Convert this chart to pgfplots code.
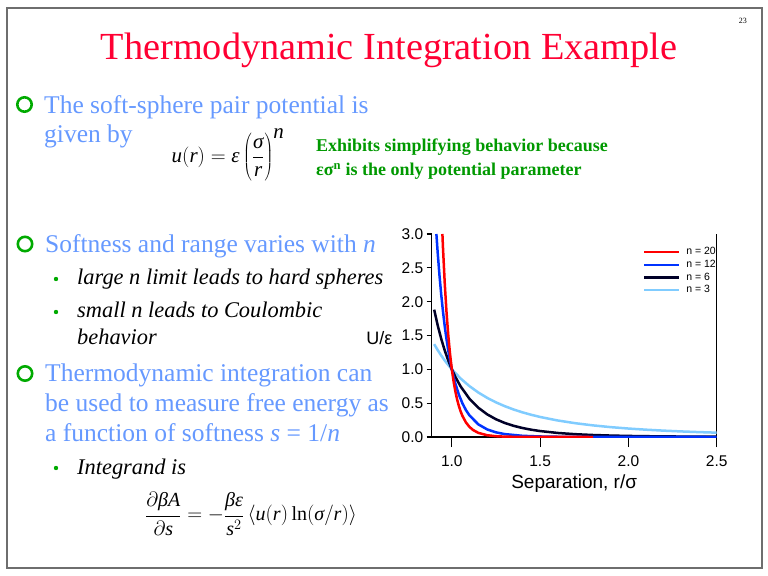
\documentclass[border=0pt]{standalone}
\usepackage{fontspec}
\setmainfont{Liberation Serif}
\setsansfont{Liberation Sans}
\usepackage{pgfplots}
\pgfplotsset{compat=1.18}
\definecolor{titlered}{RGB}{255,0,51}
\definecolor{bodyblue}{RGB}{102,153,255}
\definecolor{bgreen}{RGB}{0,170,0}
\definecolor{tgreen}{RGB}{0,153,0}
\definecolor{framegray}{RGB}{110,110,110}
\definecolor{cred}{RGB}{255,0,0}
\definecolor{cblue}{RGB}{0,51,255}
\definecolor{cnavy}{RGB}{0,0,40}
\definecolor{clight}{RGB}{128,204,255}
\newcommand{\fs}[1]{\fontsize{#1bp}{#1bp}\selectfont}
\begin{document}
\begin{tikzpicture}
\begin{scope}[shift={(0bp,576bp)}, x=1bp, y=-1bp, every node/.style={inner sep=0pt}]
\fill[white] (0,0) rectangle (768,576);
\draw[framegray, line width=2bp] (7,8) rectangle (762,568);
\node[anchor=base, text=titlered, font=\fs{38.3}] at (389,60) {Thermodynamic Integration Example};
\node[anchor=base east, font=\fs{8}] at (747,24) {23};
% bullets
\draw[bgreen, line width=2.6bp] (24.5,104.5) circle (7.2bp);
\draw[bgreen, line width=2.6bp] (25,244) circle (7.2bp);
\draw[bgreen, line width=2.6bp] (25,373.5) circle (7.2bp);
\fill[bgreen] (56,279) circle (2.2bp);
\fill[bgreen] (56,312) circle (2.2bp);
\fill[bgreen] (56,468) circle (2.2bp);
% body text
\node[anchor=base west, text=bodyblue, font=\fs{25.5}] at (44,114) {The soft-sphere pair potential is};
\node[anchor=base west, text=bodyblue, font=\fs{25.5}] at (44,143) {given by};
\node[font=\fs{21}] at (228,156) {$\displaystyle \textit{u}(\textit{r}) = \textit{ε}\left(\frac{\textit{σ}\rule[-7bp]{0pt}{22bp}}{\rule[-7bp]{0pt}{12bp}\textit{r}}\right)^{\textit{n}}$};
\node[anchor=base west, text=tgreen, font=\bfseries\fs{18}] at (316,152) {Exhibits simplifying behavior because};
\node[anchor=base west, text=tgreen, font=\bfseries\fs{18}] at (316,176) {εσ\textsuperscript{n} is the only potential parameter};
\node[anchor=base west, text=bodyblue, font=\fs{25.5}] at (45,253) {Softness and range varies with \textit{n}};
\node[anchor=base west, font=\itshape\fs{22.4}] at (77,285) {large n limit leads to hard spheres};
\node[anchor=base west, font=\itshape\fs{22.4}] at (77,318) {small n leads to Coulombic};
\node[anchor=base west, font=\itshape\fs{22.4}] at (77,345) {behavior};
\node[anchor=base west, text=bodyblue, font=\fs{25.5}] at (45,382) {Thermodynamic integration can};
\node[anchor=base west, text=bodyblue, font=\fs{25.5}] at (45,412) {be used to measure free energy as};
\node[anchor=base west, text=bodyblue, font=\fs{25.5}] at (45,442) {a function of softness \textit{s} = 1/\textit{n}};
\node[anchor=base west, font=\itshape\fs{22.4}] at (77,475) {Integrand is};
\node[font=\fs{20}] at (251,514) {$\displaystyle \frac{\partial\textit{βA}}{\partial\textit{s}} = -\frac{\textit{βε}}{\textit{s}^2}\left\langle \textit{u}(\textit{r})\,\textrm{ln}(\textit{σ}/\textit{r})\right\rangle$};
\end{scope}
\begin{axis}[
  at={(431.7bp,139bp)}, anchor=south west,
  scale only axis, width=285bp, height=203bp,
  xmin=0.886, xmax=2.5, ymin=0, ymax=3,
  axis x line*=bottom, axis y line*=left,
  axis line style={line width=1.5bp, black},
  xtick={1,1.5,2,2.5}, ytick={0,0.5,1,1.5,2,2.5,3},
  tick align=outside, major tick length=5bp,
  xtick style={/pgfplots/major tick length=10bp},
  tick style={line width=1.2bp, black},
  /pgf/number format/assume math mode=true,
  tick label style={font=\sffamily\fs{15.5}},
  xticklabel style={yshift=-10bp, /pgf/number format/.cd, fixed, fixed zerofill, precision=1},
  yticklabel style={/pgf/number format/.cd, fixed, fixed zerofill, precision=1},
  extra x ticks={2.5}, extra x tick labels={},
  extra x tick style={grid=major, major grid style={black, line width=1.5bp}},
  xlabel={Separation, r/σ},
  xlabel style={font=\sffamily\fs{19}, yshift=9bp},
  ylabel={U/ε},
  ylabel style={font=\sffamily\fs{18}, rotate=-90, at={(axis description cs:-0.184,0.488)}, anchor=center},
  legend style={at={(axis description cs:0.74,0.94)}, anchor=north west, draw=none, fill=none, inner sep=0pt,
    font=\sffamily\fs{10.5}, nodes={inner sep=1bp, text height=7.5bp, text depth=2bp}, row sep=1.2bp,
    /tikz/every odd column/.append style={column sep=5bp}},
  legend cell align=left,
  legend image code/.code={\draw[#1] (0bp,0bp) -- (35bp,0bp);},
  reverse legend,
  every axis plot/.append style={line width=2.5bp},
]
\addplot[clight] coordinates {(0.90,1.3717) (0.92,1.2842) (0.94,1.2040) (0.96,1.1303) (0.98,1.0625) (1.00,1) (1.05,0.8638) (1.10,0.7513) (1.15,0.6575) (1.20,0.5787) (1.25,0.5120) (1.30,0.4552) (1.35,0.4064) (1.40,0.3644) (1.45,0.3280) (1.50,0.2963) (1.60,0.2441) (1.70,0.2035) (1.80,0.1715) (1.90,0.1458) (2.00,0.125) (2.10,0.1080) (2.20,0.0939) (2.30,0.0822) (2.40,0.0723) (2.50,0.064)};
\addlegendentry{n =  3}
\addplot[cnavy] coordinates {(0.90,1.8817) (0.92,1.6492) (0.94,1.4496) (0.96,1.2776) (0.98,1.1289) (1.00,1) (1.02,0.8880) (1.05,0.7462) (1.10,0.5645) (1.15,0.4323) (1.20,0.3349) (1.25,0.2621) (1.30,0.2072) (1.35,0.1652) (1.40,0.1328) (1.45,0.1076) (1.50,0.0878) (1.60,0.0596) (1.70,0.0414) (1.80,0.0294) (1.90,0.0213) (2.00,0.0156) (2.10,0.0117) (2.20,0.0088) (2.30,0.0068) (2.40,0.0052) (2.50,0.0041)};
\addlegendentry{n =  6}
\addplot[cblue] coordinates {(0.9125,3.0) (0.92,2.7199) (0.93,2.3889) (0.94,2.1013) (0.95,1.8506) (0.96,1.6323) (0.97,1.4413) (0.98,1.2744) (0.99,1.1282) (1.00,1) (1.01,0.8872) (1.02,0.7885) (1.04,0.6246) (1.06,0.4970) (1.08,0.3971) (1.10,0.3186) (1.15,0.1869) (1.20,0.1122) (1.25,0.0687) (1.30,0.0429) (1.40,0.0176) (1.50,0.0077) (1.60,0.0036) (1.70,0.0017) (1.80,0.0009) (2.00,0.0002) (2.50,0.0000)};
\addlegendentry{n = 12}
\addplot[cred] coordinates {(0.9466,3.0) (0.95,2.7895) (0.96,2.2624) (0.97,1.8389) (0.98,1.4979) (0.99,1.2226) (1.00,1) (1.01,0.8195) (1.02,0.6730) (1.03,0.5536) (1.04,0.4564) (1.05,0.3769) (1.06,0.3118) (1.08,0.2146) (1.10,0.1486) (1.12,0.1037) (1.15,0.0611) (1.20,0.0261) (1.25,0.0115) (1.30,0.0053) (1.40,0.0012) (1.50,0.0003) (1.80,0.0000)};
\addlegendentry{n = 20}
\end{axis}
\end{tikzpicture}
\end{document}
